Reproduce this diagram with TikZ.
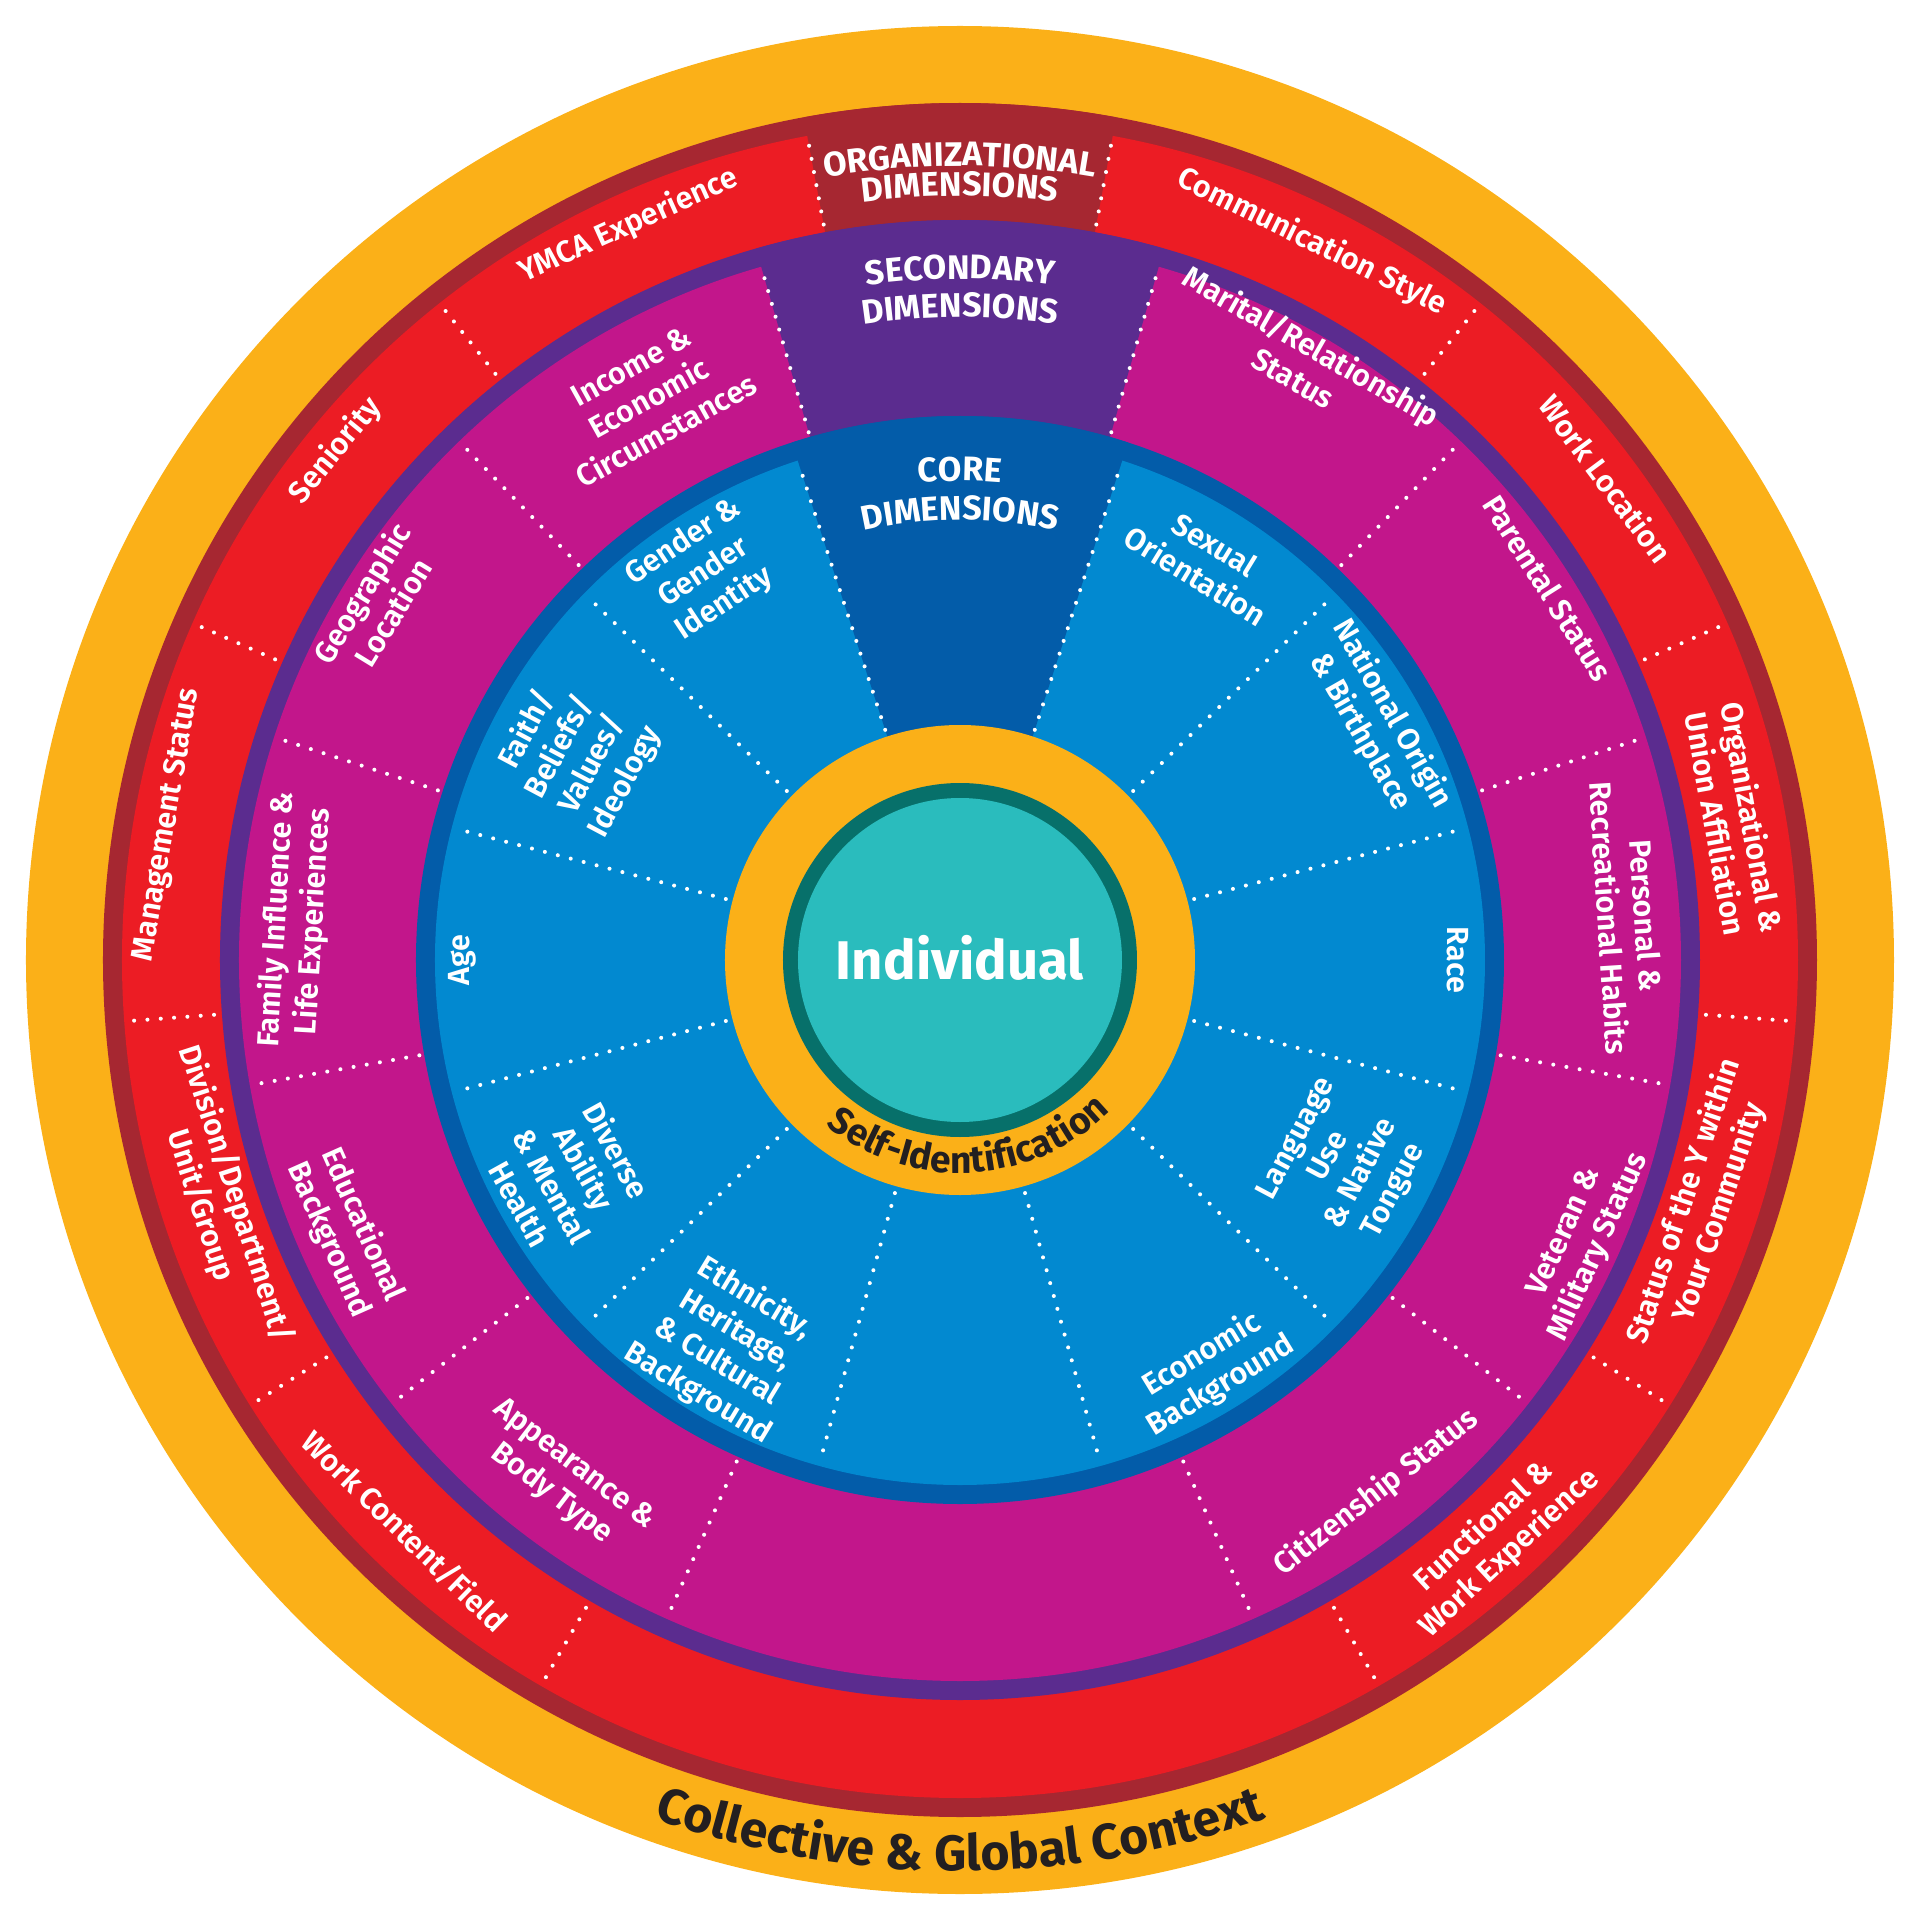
\documentclass[tikz,border=0pt]{standalone}
\usepackage{fontspec}
\setmainfont{Fira Sans}
\newfontfamily\lblfont{Fira Sans SemiBold}
\usetikzlibrary{decorations.text}
\definecolor{cOrange}{HTML}{FBB018}
\definecolor{cDarkRed}{HTML}{A62731}
\definecolor{cRed}{HTML}{EC1C24}
\definecolor{cPurple}{HTML}{5B2C8F}
\definecolor{cMagenta}{HTML}{C2168B}
\definecolor{cDarkBlue}{HTML}{035CA9}
\definecolor{cBlue}{HTML}{0289D0}
\definecolor{cTeal}{HTML}{2ABCBD}
\definecolor{cDarkTeal}{HTML}{07706A}
\definecolor{cInk}{HTML}{231F20}
\tikzset{
  lbl/.style={text=white, font=\lblfont\fontsize{8.7}{10.5}\selectfont, align=center, inner sep=0pt},
  dotline/.style={white, line width=1.15pt, line cap=round, dash pattern=on 0pt off 3.8pt},
  hdr/.style={decorate, decoration={text along path, text align=center, text color=white,
     text={|\bfseries\fontsize{9.7}{11}\selectfont|#1}}},
}
\begin{document}
\begin{tikzpicture}[x=0.1mm,y=0.1mm]
\useasboundingbox (-960,-960) rectangle (960,960);
% rings
\fill[cOrange] (0,0) circle[radius=934];
\fill[cDarkRed] (0,0) circle[radius=857];
\fill[cRed] (0,0) circle[radius=838];
\fill[cDarkRed] (0,0) -- (79.5:857) arc[start angle=79.5,end angle=100.5,radius=857] -- cycle;
\fill[cPurple] (0,0) circle[radius=740];
\fill[cMagenta] (0,0) circle[radius=721];
\fill[cPurple] (0,0) -- (74:740) arc[start angle=74,end angle=106,radius=740] -- cycle;
\fill[cDarkBlue] (0,0) circle[radius=544];
\fill[cBlue] (0,0) circle[radius=525];
\fill[cDarkBlue] (0,0) -- (72:544) arc[start angle=72,end angle=108,radius=544] -- cycle;
% dotted separators
\foreach \a in {79.5,51.6,23.7,-4.2,-32.1,-60,100.5,128.4,156.3,184.2,212.1,240}
  \draw[dotline] (\a:748) -- (\a:834);
\foreach \a in {74,46,18,-10,-38,-66,106,134,162,190,218,246}
  \draw[dotline] (\a:549) -- (\a:718);
\foreach \a in {72,44.3,14.6,-14.6,-44.3,-74.4,108,135.7,165.4,194.6,224.3,254.4}
  \draw[dotline] (\a:242) -- (\a:522);
% centre
\fill[cOrange] (0,0) circle[radius=235];
\fill[cDarkTeal] (0,0) circle[radius=177];
\fill[cTeal] (0,0) circle[radius=162];
\node[text=white, font=\bfseries\fontsize{15.5}{18}\selectfont, inner sep=0pt] (ind) at (0,2) {Individual};
% curved headers
\path[hdr=ORGANIZATIONAL] (115:794) arc[start angle=115,end angle=65,radius=794];
\path[hdr=DIMENSIONS] (115:764) arc[start angle=115,end angle=65,radius=764];
\path[hdr=SECONDARY] (115:681) arc[start angle=115,end angle=65,radius=681];
\path[hdr=DIMENSIONS] (115:643) arc[start angle=115,end angle=65,radius=643];
\path[hdr=CORE] (120:479) arc[start angle=120,end angle=60,radius=479];
\path[hdr=DIMENSIONS] (120:440) arc[start angle=120,end angle=60,radius=440];
\path[decorate, decoration={text along path, text align=center, text color=cInk,
   text={|\bfseries\fontsize{10.6}{12}\selectfont|Self-Identification}}]
   (-147:213) arc[start angle=-147,end angle=-27,radius=213];
\path[decorate, decoration={text along path, text align=center, text color=cInk,
   text={|\bfseries\fontsize{14.2}{16}\selectfont|Collective {\&} Global Context}}]
   (-130:911) arc[start angle=-130,end angle=-50,radius=911];
% organizational labels
\node[lbl, rotate=24.3] (o1) at (114.3:806) {YMCA Experience};
\node[lbl, rotate=50.8] (o2) at (140.8:806) {Seniority};
\node[lbl, rotate=80.3] (o3) at (170.3:804) {Management Status};
\node[lbl, rotate=-72.1] (o4) at (-162.1:780) {Division/Department/\\Unit/Group};
\node[lbl, rotate=-44.2] (o5) at (-134.2:797) {Work Content/Field};
\node[lbl, rotate=42.8] (o6) at (-47.2:790) {Functional \&\\Work Experience};
\node[lbl, rotate=71.6] (o7) at (-18.4:782) {Status of the Y within\\Your Community};
\node[lbl, rotate=-79.8] (o8) at (10.2:787) {Organizational \&\\Union Affiliation};
\node[lbl, rotate=-53.3] (o9) at (36.7:806) {Work Location};
\node[lbl, rotate=-26.1] (o10) at (63.9:800) {Communication Style};
% secondary labels
\node[lbl, rotate=29] (s1) at (119:642) {Income \&\\Economic\\Circumstances};
\node[lbl, rotate=58.5] (s2) at (148.5:684) {Geographic\\Location};
\node[lbl, rotate=86.6] (s3) at (176.6:666) {Family Influence \&\\Life Experiences};
\node[lbl, rotate=-66.1] (s4) at (-156.1:672) {Educational\\Background};
\node[lbl, rotate=-37.4] (s5) at (-127.4:654) {Appearance \&\\Body Type};
\node[lbl, rotate=38] (s6) at (-52:676) {Citizenship Status};
\node[lbl, rotate=65.8] (s7) at (-24.2:682) {Veteran \&\\Military Status};
\node[lbl, rotate=-86.3] (s8) at (3.7:669) {Personal \&\\Recreational Habits};
\node[lbl, rotate=-57.7] (s9) at (32.3:696) {Parental Status};
\node[lbl, rotate=-29.8] (s10) at (60.2:690) {Marital/Relationship\\Status};
% core labels
\node[lbl, rotate=33.5] (c1) at (123.5:464) {Gender \&\\Gender\\Identity};
\node[lbl, rotate=62] (c2) at (152:435) {Faith/\\Beliefs/\\Values/\\Ideology};
\node[lbl, rotate=90] (c3) at (180:498) {Age};
\node[lbl, rotate=-61] (c4) at (-151:447) {Diverse\\Ability\\\& Mental\\Health};
\node[lbl, rotate=-31.2] (c5) at (-121.2:451) {Ethnicity,\\Heritage,\\\& Cultural\\Background};
\node[lbl, rotate=31.5] (c6) at (-58.5:481) {Economic\\Background};
\node[lbl, rotate=62] (c7) at (-28:437) {Language\\Use\\\& Native\\Tongue};
\node[lbl, rotate=-90] (c8) at (0:498) {Race};
\node[lbl, rotate=-60.3] (c9) at (29.7:479) {National Origin\\\& Birthplace};
\node[lbl, rotate=-31.5] (c10) at (58.5:469) {Sexual\\Orientation};
\end{tikzpicture}
\end{document}
